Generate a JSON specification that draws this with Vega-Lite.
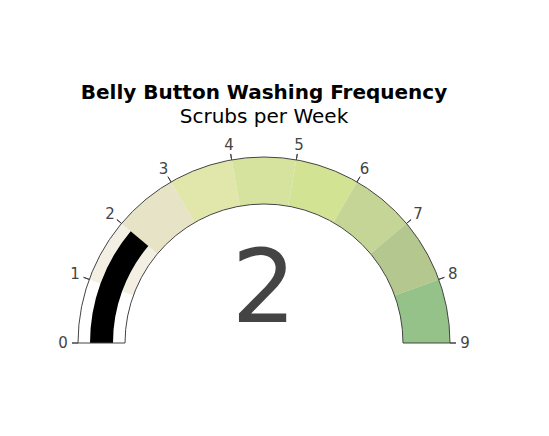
{
  "$schema": "https://vega.github.io/schema/vega-lite/v6.json",
  "width": 528,
  "height": 208,
  "autosize": "none",
  "padding": {"left": 0, "top": 135, "right": 21, "bottom": 93},
  "background": "white",
  "config": {"view": {"stroke": null}},
  "title": {
    "text": "Belly Button Washing Frequency",
    "subtitle": "Scrubs per Week",
    "font": "DejaVu Sans",
    "fontSize": 20,
    "fontWeight": "bold",
    "color": "#000000",
    "subtitleFont": "DejaVu Sans",
    "subtitleFontSize": 20,
    "subtitleColor": "#000000",
    "anchor": "middle",
    "offset": 8,
    "subtitlePadding": 4
  },
  "datasets": {
    "steps": [
      {"step": "0-1", "start": 0, "end": 1},
      {"step": "1-2", "start": 1, "end": 2},
      {"step": "2-3", "start": 2, "end": 3},
      {"step": "3-4", "start": 3, "end": 4},
      {"step": "4-5", "start": 4, "end": 5},
      {"step": "5-6", "start": 5, "end": 6},
      {"step": "6-7", "start": 6, "end": 7},
      {"step": "7-8", "start": 7, "end": 8},
      {"step": "8-9", "start": 8, "end": 9}
    ],
    "gauge": [{"min": 0, "max": 9, "value": 2}],
    "ticks": [
      {"v": 0}, {"v": 1}, {"v": 2}, {"v": 3}, {"v": 4},
      {"v": 5}, {"v": 6}, {"v": 7}, {"v": 8}, {"v": 9}
    ]
  },
  "encoding": {
    "x": {"datum": 0, "type": "quantitative", "scale": {"domain": [-1, 1]}, "axis": null},
    "y": {"datum": 0, "type": "quantitative", "scale": {"domain": [0, 1]}, "axis": null}
  },
  "layer": [
    {
      "data": {"name": "steps"},
      "mark": {"type": "arc", "radius": 186, "radius2": 139, "strokeWidth": 0},
      "encoding": {
        "theta": {"field": "start", "type": "quantitative", "scale": {"domain": [0, 9], "range": [-1.5707963, 1.5707963]}},
        "theta2": {"field": "end"},
        "color": {
          "field": "step",
          "type": "nominal",
          "scale": {
            "domain": ["0-1", "1-2", "2-3", "3-4", "4-5", "5-6", "6-7", "7-8", "8-9"],
            "range": ["#ffffff", "#f3efe3", "#e7e3c7", "#e1e6ab", "#d6e39e", "#d2e393", "#c4d596", "#b4c78e", "#94c288"]
          },
          "legend": null
        }
      }
    },
    {
      "data": {"name": "gauge"},
      "mark": {"type": "arc", "radius": 174, "radius2": 151, "fill": "#000000"},
      "encoding": {
        "theta": {"field": "min", "type": "quantitative", "scale": {"domain": [0, 9], "range": [-1.5707963, 1.5707963]}},
        "theta2": {"field": "value"}
      }
    },
    {
      "data": {"name": "gauge"},
      "mark": {"type": "arc", "radius": 186, "radius2": 139, "fill": null, "stroke": "#444444", "strokeWidth": 1},
      "encoding": {
        "theta": {"field": "min", "type": "quantitative", "scale": {"domain": [0, 9], "range": [-1.5707963, 1.5707963]}},
        "theta2": {"field": "max"}
      }
    },
    {
      "data": {"name": "ticks"},
      "mark": {"type": "arc", "radius": 192, "radius2": 186, "fill": null, "stroke": "#444444", "strokeWidth": 1},
      "encoding": {
        "theta": {"field": "v", "type": "quantitative", "scale": {"domain": [0, 9], "range": [-1.5707963, 1.5707963]}},
        "theta2": {"field": "v"}
      }
    },
    {
      "data": {"name": "ticks"},
      "mark": {"type": "text", "radius": 201, "font": "DejaVu Sans", "fontSize": 15, "color": "#444444", "align": "center", "baseline": "middle"},
      "encoding": {
        "theta": {"field": "v", "type": "quantitative", "scale": {"domain": [0, 9], "range": [-1.5707963, 1.5707963]}},
        "text": {"field": "v", "type": "quantitative"}
      }
    },
    {
      "data": {"name": "gauge"},
      "mark": {"type": "text", "font": "DejaVu Sans", "fontSize": 102, "color": "#444444", "align": "center", "baseline": "alphabetic", "dy": -21},
      "encoding": {
        "text": {"field": "value", "type": "quantitative"}
      }
    }
  ]
}
